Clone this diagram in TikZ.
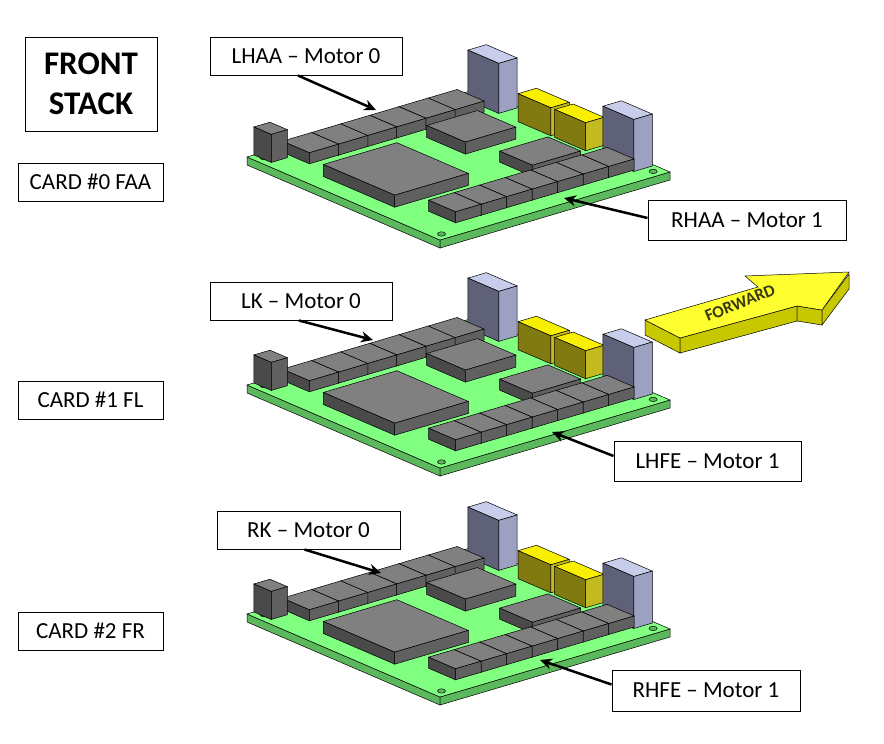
\documentclass[tikz,border=0pt]{standalone}
\usepackage{fontspec}
\setmainfont{Carlito}
\usetikzlibrary{arrows.meta}
\definecolor{brdtop}{HTML}{80FF80}
\definecolor{brdside}{HTML}{5CB85C}
\definecolor{chtop}{HTML}{808080}
\definecolor{chl}{HTML}{4A4A4A}
\definecolor{chr}{HTML}{606060}
\definecolor{twtop}{HTML}{C8CDEB}
\definecolor{twl}{HTML}{5E6177}
\definecolor{twr}{HTML}{9CA1C2}
\definecolor{ytop}{HTML}{F8F000}
\definecolor{yl}{HTML}{807A10}
\definecolor{yr}{HTML}{C2BA1E}
\definecolor{fwtop}{HTML}{FFFF30}
\definecolor{fwside}{HTML}{C8C800}
\definecolor{fwtext}{HTML}{3A3A10}
\newcommand\cbox[8]{%
 \filldraw[draw=black,line width=0.5pt,fill=#6] (#1,#2,#5)--(#3,#2,#5)--(#3,#4,#5)--(#1,#4,#5)--cycle;
 \filldraw[draw=black,line width=0.5pt,fill=#7] (#1,#2,0)--(#1,#4,0)--(#1,#4,#5)--(#1,#2,#5)--cycle;
 \filldraw[draw=black,line width=0.5pt,fill=#8] (#1,#4,0)--(#3,#4,0)--(#3,#4,#5)--(#1,#4,#5)--cycle;}
\newcommand\chip[5]{\cbox{#1}{#2}{#3}{#4}{#5}{chtop}{chl}{chr}}
\newcommand\brd[1]{%
\begin{scope}[shift={(247pt,-157pt-#1pt)},x={(2.30pt,0.68pt)},y={(1.93pt,-0.83pt)},z={(0pt,1pt)}]
 \filldraw[draw=black,line width=0.5pt,fill=brdside] (0,0,0)--(0,100,0)--(0,100,-8)--(0,0,-8)--cycle;
 \filldraw[draw=black,line width=0.5pt,fill=brdside] (0,100,0)--(100,100,0)--(100,100,-8)--(0,100,-8)--cycle;
 \filldraw[draw=black,line width=0.5pt,fill=brdtop] (0,0,0)--(100,0,0)--(100,100,0)--(0,100,0)--cycle;
 \filldraw[line width=0.5pt,fill=brdside] (4,4,0) ellipse [x radius=4pt,y radius=2.2pt];
 \filldraw[line width=0.5pt,fill=brdside] (4,96,0) ellipse [x radius=4pt,y radius=2.2pt];
 \filldraw[line width=0.5pt,fill=brdside] (96,96,0) ellipse [x radius=4pt,y radius=2.2pt];
 \cbox{91}{6}{99}{22}{50}{twtop}{twl}{twr}
 \foreach \a in {75.3,62.7,50,37.3,24.7,12} {\chip{\a}{4}{\a+12.7}{18}{11}}
 \cbox{91}{32}{99}{49}{28}{ytop}{yl}{yr}
 \chip{58}{24}{80}{44}{12}
 \cbox{91}{51}{99}{67}{28}{ytop}{yl}{yr}
 \cbox{3}{0}{10}{9}{28}{chtop}{chl}{chr}
 \cbox{91}{76}{99}{92}{52}{twtop}{twl}{twr}
 \chip{62}{57}{83}{74}{11}
 \chip{8}{30}{40}{67}{12}
 \foreach \a in {80.9,69.8,58.7,47.6,36.5,25.4,14.3} {\chip{\a}{77}{\a+11.1}{91}{11}}
\end{scope}}
\tikzset{lbl/.style={draw=black,line width=1pt,fill=white,font=\fontsize{23}{26}\selectfont,inner sep=0pt},
 arr/.style={line width=2.5pt,-{Stealth[length=12pt,width=11pt]}}}
\begin{document}
\begin{tikzpicture}[x=1pt,y=1pt]
\useasboundingbox (0,0) rectangle (884,-744);
\fill[white] (0,0) rectangle (884,-744);
\brd{0}
\brd{228}
\brd{457}
% FORWARD arrow
\filldraw[draw=black,line width=0.5pt,fill=fwside] (645,-320)--(680,-338)--(680,-353)--(645,-335)--cycle;
\filldraw[draw=black,line width=0.5pt,fill=fwside] (680,-338)--(797,-306)--(797,-321)--(680,-353)--cycle;
\filldraw[draw=black,line width=0.5pt,fill=fwside] (797,-306)--(822,-310)--(822,-325)--(797,-321)--cycle;
\filldraw[draw=black,line width=0.5pt,fill=fwside] (822,-310)--(849,-274)--(849,-289)--(822,-325)--cycle;
\filldraw[draw=black,line width=0.5pt,fill=fwtop] (645,-320)--(758,-287)--(745,-276)--(849,-272)--(822,-310)--(797,-306)--(680,-338)--cycle;
\node[rotate=22,font=\bfseries\fontsize{17}{17}\selectfont,text=fwtext,draw=none,inner sep=0pt] (fw) at (740,-303) {FORWARD};
% labels
\node[lbl,minimum width=132,minimum height=94,font=\bfseries\fontsize{33}{40}\selectfont,align=center] (fs) at (91,-84) {FRONT\\STACK};
\node[lbl,minimum width=145,minimum height=38] (c0) at (90.5,-182) {CARD \#0 FAA};
\node[lbl,minimum width=145,minimum height=38] (c1) at (90.5,-400) {CARD \#1 FL};
\node[lbl,minimum width=145,minimum height=38] (c2) at (90.5,-631) {CARD \#2 FR};
\node[lbl,minimum width=192,minimum height=38] (l0) at (306,-56) {LHAA – Motor 0};
\node[lbl,minimum width=198,minimum height=40] (r0) at (747,-220) {RHAA – Motor 1};
\node[lbl,minimum width=182,minimum height=38] (l1) at (301,-301) {LK – Motor 0};
\node[lbl,minimum width=187,minimum height=40] (r1) at (707.5,-461) {LHFE – Motor 1};
\node[lbl,minimum width=183,minimum height=38] (l2) at (308.5,-530) {RK – Motor 0};
\node[lbl,minimum width=188,minimum height=41] (r2) at (706,-690.5) {RHFE – Motor 1};
\coordinate (t0) at (376,-110);
\coordinate (u0) at (564,-198);
\coordinate (t1) at (373,-340);
\coordinate (u1) at (552,-432);
\coordinate (t2) at (381,-573);
\coordinate (u2) at (540,-660);
\draw[arr] ([xshift=-8pt]l0.south) -- (t0);
\draw[arr] ([yshift=2pt]r0.west) -- (u0);
\draw[arr] ([xshift=-2pt]l1.south) -- (t1);
\draw[arr] ([yshift=5pt]r1.west) -- (u1);
\draw[arr] ([xshift=-4pt]l2.south) -- (t2);
\draw[arr] ([yshift=6pt]r2.west) -- (u2);
\end{tikzpicture}
\end{document}
